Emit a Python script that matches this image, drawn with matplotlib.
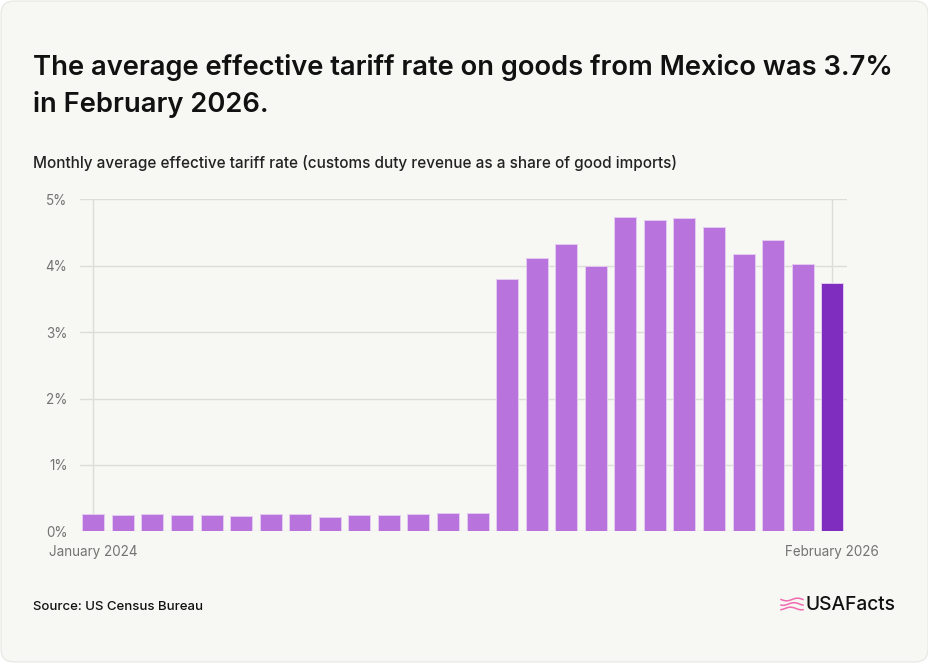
import numpy as np
from matplotlib import pyplot as plt
from matplotlib.patches import FancyBboxPatch

# monthly average effective tariff rate on goods from Mexico (%)
months = ['Jan 2024', 'Feb 2024', 'Mar 2024', 'Apr 2024', 'May 2024', 'Jun 2024', 'Jul 2024', 'Aug 2024',
          'Sep 2024', 'Oct 2024', 'Nov 2024', 'Dec 2024', 'Jan 2025', 'Feb 2025', 'Mar 2025', 'Apr 2025',
          'May 2025', 'Jun 2025', 'Jul 2025', 'Aug 2025', 'Sep 2025', 'Oct 2025', 'Nov 2025', 'Dec 2025',
          'Jan 2026', 'Feb 2026']
rates = [0.26, 0.25, 0.26, 0.25, 0.25, 0.23, 0.26, 0.26, 0.22, 0.24, 0.24, 0.26, 0.28, 0.27,
         3.80, 4.11, 4.33, 3.99, 4.74, 4.69, 4.72, 4.58, 4.17, 4.38, 4.03, 3.74]
y_ticks = [0, 1, 2, 3, 4, 5]
y_labels = ['0%', '1%', '2%', '3%', '4%', '5%']
end_labels = ['January 2024', 'February 2026']

BG = '#F7F7F3'
BAR = '#B973DD'
BAR_LAST = '#7F2DBE'
GRID = '#DCDCD8'
GRAY = '#737373'

fig = plt.figure(figsize=(9.29, 6.63), dpi=100)
fig.patch.set_facecolor('white')
card = FancyBboxPatch((0.01, 0.01), 9.27, 6.61, boxstyle='round,pad=0,rounding_size=0.13',
                      transform=fig.dpi_scale_trans, facecolor=BG, edgecolor='#E6E6E2', linewidth=0.8,
                      zorder=-10)
fig.patches.append(card)

W, H = 929, 663
ax = fig.add_axes([80 / W, 1 - 531.3 / H, (846.7 - 80) / W, (531.3 - 199.3) / H])
ax.set_facecolor('none')

x = np.arange(len(rates))
colors = [BAR] * (len(rates) - 1) + [BAR_LAST]
ax.bar(x, rates, width=0.745, color=colors, edgecolor='#E4CBF1', linewidth=0.7, zorder=3)

ax.set_ylim(0, 5)
ax.set_xlim(-0.45, len(rates) - 1 + 0.49)
ax.set_yticks(y_ticks)
ax.set_yticklabels(y_labels)
ax.grid(axis='y', color=GRID, linewidth=1, zorder=0)
ax.axvline(x[0], color=GRID, linewidth=1, zorder=0)
ax.axvline(x[-1], color=GRID, linewidth=1, zorder=0)
ax.set_xticks([x[0], x[-1]])
ax.set_xticklabels(end_labels)
for s in ax.spines.values():
    s.set_visible(False)
ax.tick_params(axis='both', length=0, labelsize=9.7, labelcolor=GRAY)
ax.tick_params(axis='y', pad=9)
ax.tick_params(axis='x', pad=10)
for lbl in ax.get_xticklabels() + ax.get_yticklabels():
    lbl.set_family('Inter')

fig.text(33 / W, 1 - 75 / H, 'The average effective tariff rate on goods from Mexico was 3.7%',
         fontsize=19.7, fontweight='semibold', family='Inter', color='#111111', va='baseline')
fig.text(33 / W, 1 - 111.5 / H, 'in February 2026.',
         fontsize=19.7, fontweight='semibold', family='Inter', color='#111111', va='baseline')
fig.text(33 / W, 1 - 168 / H,
         'Monthly average effective tariff rate (customs duty revenue as a share of good imports)',
         fontsize=11, family='Inter', fontweight='medium', color='#222222', va='baseline')
fig.text(33 / W, 1 - 609.5 / H, 'Source: US Census Bureau', fontsize=9.5, family='Inter',
         fontweight='medium', color='#111111', va='baseline')

# logo
fig.text(806 / W, 1 - 610.5 / H, 'USAFacts', fontsize=13.8, family='Inter', fontweight='medium',
         color='#111111', va='baseline')
lx = np.linspace(781, 803, 30)
for k, yy in enumerate([599.5, 604, 608.5]):
    ly = yy + 1.3 * np.sin((lx - 781) / 22 * 2 * np.pi + k)
    fig.add_artist(plt.Line2D(lx / W, 1 - ly / H, color='#F06BB0', linewidth=1.1))

fig.savefig('out.png', dpi=100, facecolor=fig.get_facecolor())
